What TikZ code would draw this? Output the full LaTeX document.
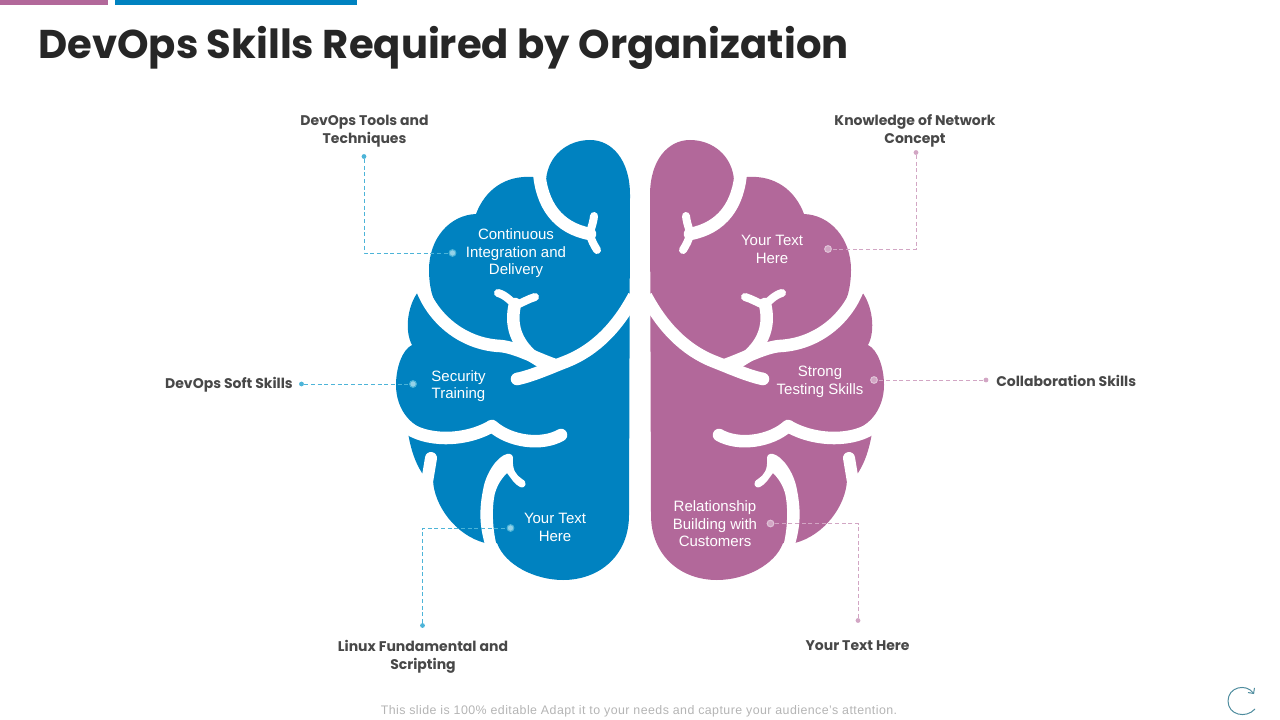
\documentclass[tikz,border=0pt]{standalone}
\usepackage{fontspec}
\setmainfont{Liberation Sans}
\newfontfamily\headfont{Poppins}
\usetikzlibrary{arrows.meta}
\definecolor{bluefill}{HTML}{0082C0}
\definecolor{pinkfill}{HTML}{B2689A}
\definecolor{bluedash}{HTML}{4DB4D8}
\definecolor{pinkdash}{HTML}{D2A6C4}
\definecolor{labelgrey}{HTML}{484848}
\definecolor{titlegrey}{HTML}{262626}
\definecolor{footgrey}{HTML}{B4B4B4}
\definecolor{iconcol}{HTML}{4E8C9E}
\newcommand{\brainhalf}[1]{%
  \fill[#1] (630,195) .. controls (630,160) and (612,140) .. (590,140) .. controls (568,140) and (548,155) .. (546,180)
    -- (533,177) .. controls (505,175) and (485,190) .. (476,214)
    .. controls (450,215) and (429,238) .. (429,270) .. controls (429,285) and (432,300) .. (440,312)
    -- (418,292) .. controls (408,305) and (404,330) .. (412,345)
    .. controls (402,350) and (396,368) .. (396,385) .. controls (396,410) and (412,430) .. (436,432)
    -- (408,433) .. controls (411,450) and (415,462) .. (422,473)
    -- (433,480) .. controls (434,505) and (455,535) .. (485,543)
    -- (497,543) .. controls (505,565) and (535,580) .. (563,580) .. controls (600,580) and (629,555) .. (629,515)
    -- cycle;
  % upper fissure
  \draw[fissure] (539,170) .. controls (541,205) and (558,228) .. (590,234);
  \draw[twig] (594,216) .. controls (593,225) and (590,230) .. (590,234) .. controls (591,240) and (594,245) .. (597,250);
  % long fissure under the top lobe
  \draw[fissure] (421,286) .. controls (432,318) and (462,344) .. (500,346) .. controls (515,347) and (535,358) .. (555,365);
  % stem and fork
  \draw[fissure] (515,304) .. controls (510,325) and (516,342) .. (532,356) -- (548,366);
  \draw[twig] (498,293) .. controls (506,295) and (511,302) .. (516,305) .. controls (522,303) and (528,299) .. (535,297);
  % fissure from the midline
  \draw[fissure,line cap=butt] (634,296) .. controls (618,326) and (596,350) .. (565,362) .. controls (552,367) and (532,376) .. (517,379);
  \fill[white] (517,379) circle[radius=4.7pt];
  % wave fissure
  \draw[fissure,line cap=butt] (405,426) .. controls (425,442) and (465,442) .. (492,426);
  \draw[fissure] (492,426) .. controls (510,442) and (542,446) .. (561,435);
  % small notch
  \draw[fissure,line width=9pt] (431,458) -- (427,482);
  % curved fissure round the lower lobe
  \fill[white] (507,454) .. controls (498,456) and (486,472) .. (483,490) .. controls (478,515) and (481,530) .. (485,545)
    -- (498,550) .. controls (493,535) and (491,510) .. (495,493) .. controls (498,483) and (503,477) .. (507,473)
    .. controls (511,478) and (514,484) .. (520,487) .. controls (526,489) and (528,482) .. (522,479)
    .. controls (516,475) and (512,470) .. (513,458) .. controls (513,455) and (510,453) .. (507,454) -- cycle;
}
\tikzset{
  fissure/.style={draw=white,line width=9.4pt,line cap=round,line join=round},
  twig/.style={draw=white,line width=6pt,line cap=round,line join=round},
  inner/.style={text=white,align=center,font=\fontsize{11.25}{13.2}\selectfont},
  skill/.style={text=labelgrey,align=center,inner sep=0pt,font=\headfont\bfseries\fontsize{10.5}{13.5}\selectfont},
  bluelink/.style={draw=bluedash,dash pattern=on 3pt off 2pt,line width=.6pt},
  pinklink/.style={draw=pinkdash,dash pattern=on 3pt off 2pt,line width=.6pt},
  enddot/.style={circle,inner sep=0pt,minimum size=3.6pt},
  innerdot/.style={circle,inner sep=0pt,minimum size=5pt,line width=.8pt}
}
\begin{document}
\begin{tikzpicture}[x=.75pt,y=-.75pt]
\useasboundingbox (0,0) rectangle (1280,720);
\fill[pinkfill] (0,0) rectangle (108,5);
\fill[bluefill] (115,0) rectangle (357,5);
\node[anchor=west,inner sep=0pt,text=titlegrey,font=\headfont\bfseries\fontsize{30.1}{36}\selectfont] (title) at (38,48) {DevOps Skills Required by Organization};

\brainhalf{bluefill}
\begin{scope}[xshift=960pt,xscale=-1]
\brainhalf{pinkfill}
\end{scope}

\node[inner] (tc) at (516,253.5) {Continuous\\Integration and\\Delivery};
\node[inner] (ts) at (458.5,386) {Security\\Training};
\node[inner] (ty) at (555,527.5) {Your Text\\Here};
\node[inner] (ry) at (772,249.5) {Your Text\\Here};
\node[inner] (rs) at (820,382) {Strong\\Testing Skills};
\node[inner] (rr) at (715,524) {Relationship\\Building with\\Customers};

\node[skill] (l1) at (364.5,131) {DevOps Tools and\\Techniques};
\node[skill,anchor=east] (l2) at (293,385) {DevOps Soft Skills};
\node[skill] (l3) at (423,657) {Linux Fundamental and\\Scripting};
\node[skill] (r1) at (915,131) {Knowledge of Network\\Concept};
\node[skill,anchor=west] (r2) at (996,381) {Collaboration Skills};
\node[skill] (r3) at (857.5,646) {Your Text Here};

\node[enddot,fill=bluedash] (a1) at (364,156.5) {};
\node[innerdot,fill=bluedash!60,draw=bluedash] (b1) at (452.5,253) {};
\node[enddot,fill=bluedash] (a2) at (301.5,384) {};
\node[innerdot,fill=bluedash!60,draw=bluedash] (b2) at (413,384) {};
\node[enddot,fill=bluedash] (a3) at (422.5,625.5) {};
\node[innerdot,fill=bluedash!60,draw=bluedash] (b3) at (510.5,528) {};
\node[enddot,fill=pinkdash] (c1) at (916,152.5) {};
\node[innerdot,fill=pinkdash,draw=pinkdash!70] (d1) at (828,249) {};
\node[enddot,fill=pinkdash] (c2) at (986,380) {};
\node[innerdot,fill=pinkdash,draw=pinkdash!70] (d2) at (874,380) {};
\node[enddot,fill=pinkdash] (c3) at (858,620.5) {};
\node[innerdot,fill=pinkdash,draw=pinkdash!70] (d3) at (770.5,523.5) {};

\draw[bluelink] (a1) |- (b1);
\draw[bluelink] (a2) -- (b2);
\draw[bluelink] (a3) |- (b3);
\draw[pinklink] (c1) |- (d1);
\draw[pinklink] (c2) -- (d2);
\draw[pinklink] (c3) |- (d3);

\node[text=footgrey,font=\fontsize{9.3}{11}\selectfont\addfontfeature{LetterSpace=3.5}] (foot) at (639,711) {This slide is 100\% editable Adapt it to your needs and capture your audience’s attention.};

\coordinate (iconstart) at (1254,694);
\draw[iconcol,line width=.75pt,-{Straight Barb[length=3pt,width=6pt]}] (1255,709) .. controls (1246,719) and (1228,715) .. (1228,701) .. controls (1228,687) and (1246,683) .. (iconstart);
\end{tikzpicture}
\end{document}
